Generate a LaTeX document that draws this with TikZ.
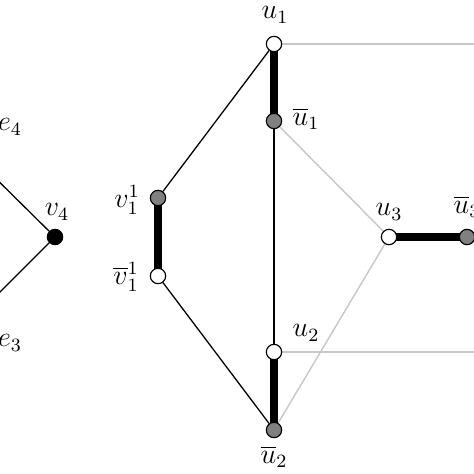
\documentclass[tikz,border=0pt]{standalone}
\usepackage{amsmath}
\usepackage{xcolor}
\usepackage{tikz}
\pgfdeclarelayer{bg}
\pgfsetlayers{bg,main}
\tikzset{
  vnode/.style = {circle, draw=black, inner sep=0pt, minimum size=0.23cm,
    line width=0.5pt},
  vn_w/.style = {vnode, fill=white},% sommet blanc
  vn_g/.style = {vnode, fill=black!50},% sommet gris
  vn_b/.style = {vnode, fill=black},% sommet noir
  lbl/.style = {font=\large, inner sep=0pt},
  thin_e/.style = {draw=black, line width=0.55pt},
  grey_e/.style = {draw=black!22, line width=0.6pt},
  fat_e/.style = {draw=black, line width=3.4pt}
}

\begin{document}
\begin{tikzpicture}[x=0.015cm,y=-0.015cm]
\useasboundingbox (0,0) rectangle (474,474);
\clip (0,0) rectangle (474,474);
% sommets
\node [vn_w] (u1) at (274,44) {};
\node [vn_g] (ub1) at (274,121) {};
\node [vn_w] (u2) at (274,352) {};
\node [vn_g] (ub2) at (274,430) {};
\node [vn_g] (v1) at (158,198) {};
\node [vn_w] (vb1) at (158,276) {};
\node [vn_w] (u3) at (389,237) {};
\node [vn_g] (ub3) at (467,237) {};
\node [vn_b] (v4) at (55,237) {};
\coordinate (e4) at (-30,153);
\coordinate (e3) at (-30,322);
\coordinate (r1) at (520,44);
\coordinate (r2) at (520,352);
% aretes
\begin{pgfonlayer}{bg}
\draw [grey_e] (u1) -- (r1);
\draw [grey_e] (u2) -- (r2);
\draw [grey_e] (ub1) -- (u3);
\draw [grey_e] (ub2) -- (u3);
\draw [thin_e] (u1) -- (v1);
\draw [thin_e] (vb1) -- (ub2);
\draw [thin_e] (ub1) -- (u2);
\draw [thin_e] (v4) -- (e4);
\draw [thin_e] (v4) -- (e3);
\draw [fat_e] (u1.center) -- (ub1.center);
\draw [fat_e] (u2.center) -- (ub2.center);
\draw [fat_e] (v1.center) -- (vb1.center);
\draw [fat_e] (u3.center) -- (ub3.center);
\end{pgfonlayer}
% etiquettes
\node [lbl] (lu1) at (275,15) {$u_1$};
\node [lbl] (lub1) at (306,119) {$\overline{u}_1$};
\node [lbl] (lu2) at (306,333) {$u_2$};
\node [lbl] (lub2) at (274,457) {$\overline{u}_2$};
\node [lbl] (lv1) at (127,200) {$v_1^1$};
\node [lbl] (lvb1) at (126,277) {$\overline{v}_1^1$};
\node [lbl] (lu3) at (389,212) {$u_3$};
\node [lbl] (lub3) at (467,207) {$\overline{u}_3$};
\node [lbl] (lv4) at (57,212) {$v_4$};
\node [lbl] (le4) at (10,127) {$e_4$};
\node [lbl] (le3) at (10,343) {$e_3$};
\end{tikzpicture}
\end{document}
